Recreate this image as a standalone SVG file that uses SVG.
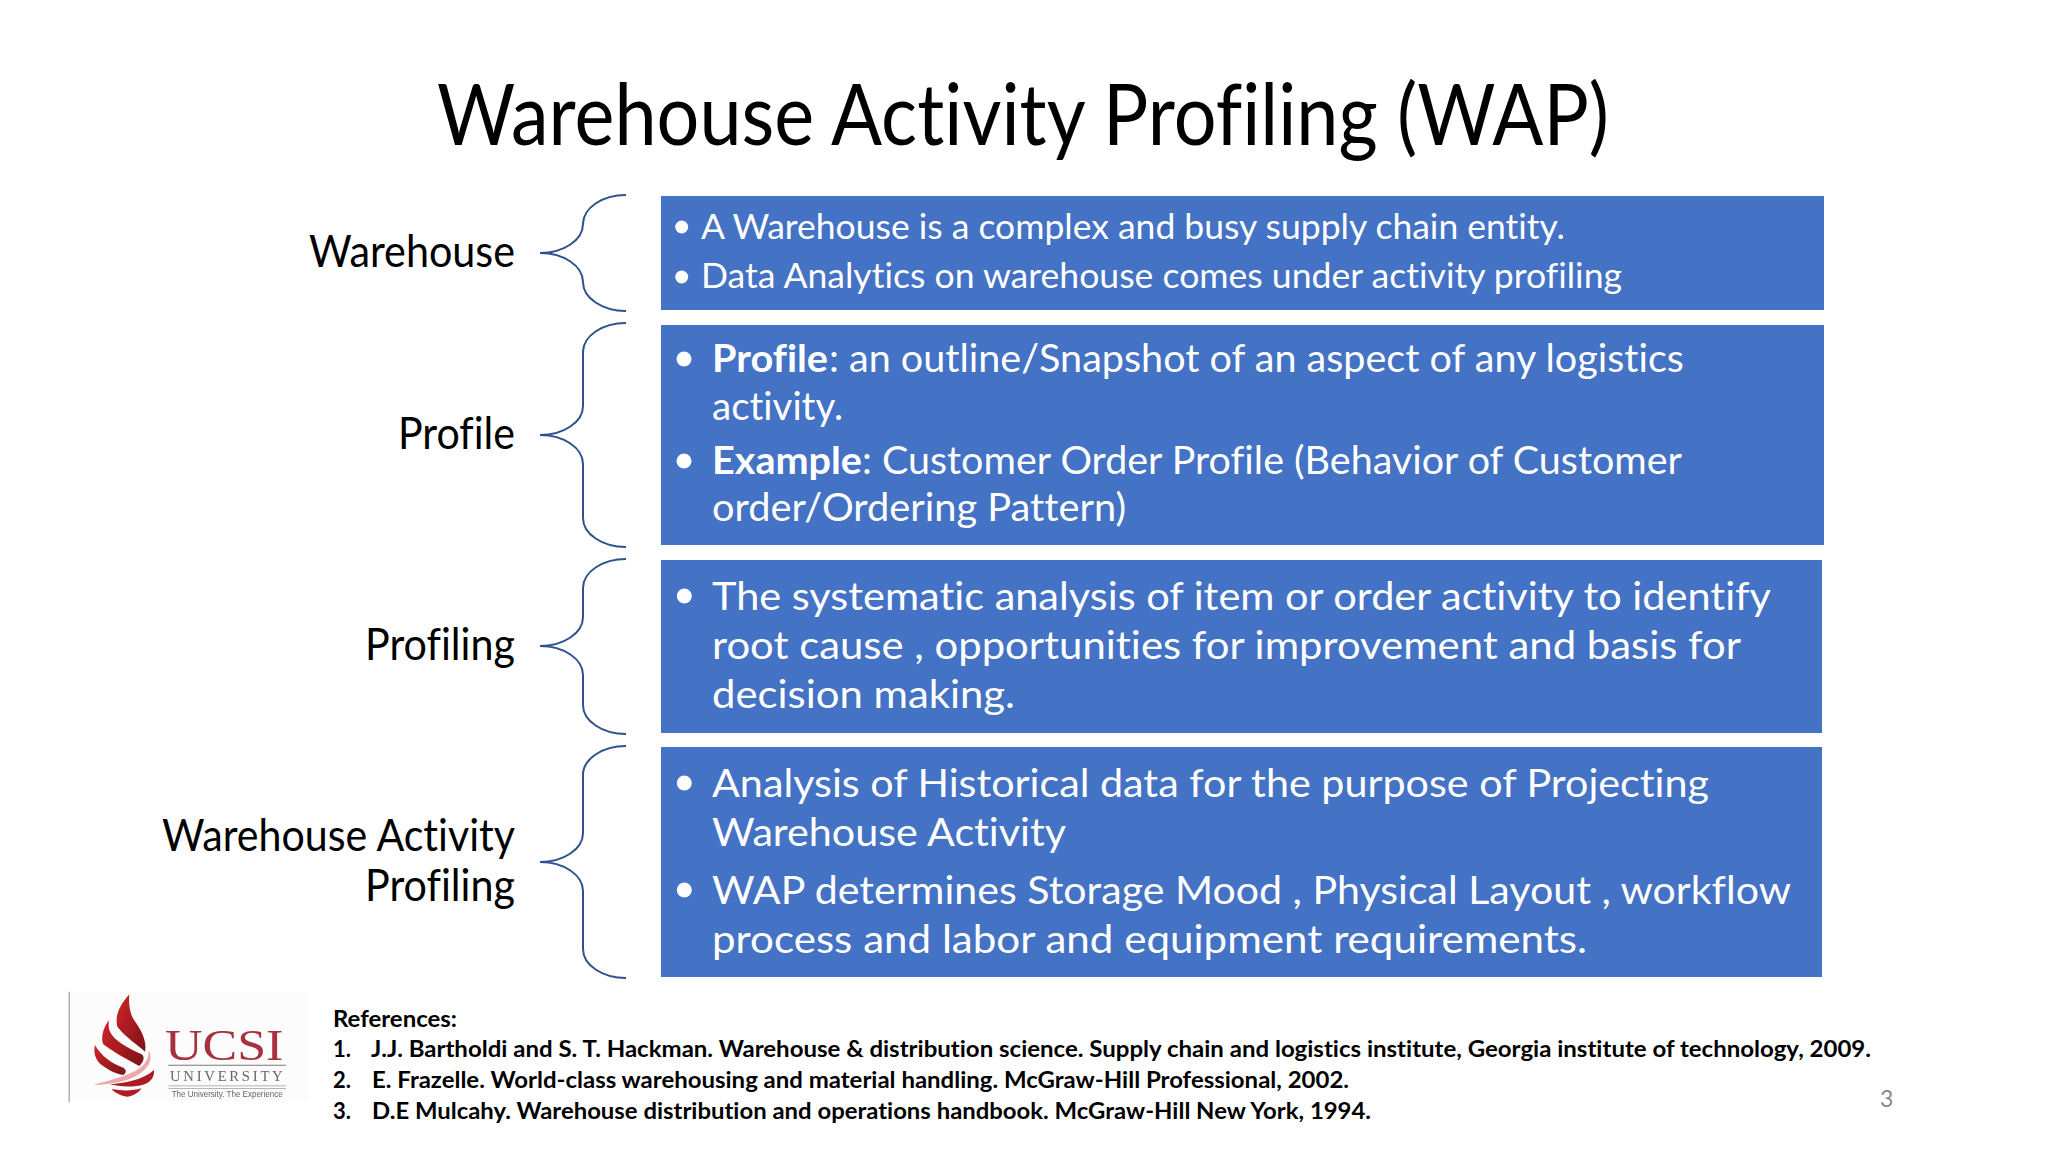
<svg xmlns="http://www.w3.org/2000/svg" width="2048" height="1152" viewBox="0 0 2048 1152">
<defs>
<style>
text{font-family:"Lato","Open Sans","Liberation Sans",sans-serif;font-variant-ligatures:none}
.t{fill:#000}
.lab{font-size:44px;fill:#000}
.w{fill:#fff}
.box{fill:#4472C4}
.dot{fill:#fff}
.brace{fill:none;stroke:#2F528F;stroke-width:2}
.ref{font-size:22px;font-weight:700;fill:#000}
</style>
<filter id="soft" x="-5%" y="-5%" width="110%" height="110%"><feGaussianBlur stdDeviation="0.9"/></filter>
<linearGradient id="flame" x1="0" y1="0" x2="1" y2="1"><stop offset="0" stop-color="#d0262a"/><stop offset="1" stop-color="#7c1216"/></linearGradient>
</defs>
<rect width="2048" height="1152" fill="#fff"/>
<text id="title" class="t" x="437" y="145" font-size="85" textLength="1172" lengthAdjust="spacingAndGlyphs">Warehouse Activity Profiling (WAP)</text>

<g id="connectors">
<path class="brace" d="M626,195 A43,29 0 0 0 583,224 A43,29 0 0 1 540,253 A43,29 0 0 1 583,282 A43,29 0 0 0 626,311"/>
<path class="brace" d="M626,323 A43,29 0 0 0 583,352 L583,406 A43,29 0 0 1 540,435 A43,29 0 0 1 583,464 L583,518 A43,29 0 0 0 626,547"/>
<path class="brace" d="M626,559 A43,29 0 0 0 583,588 L583,617 A43,29 0 0 1 540,646 A43,29 0 0 1 583,675 L583,705 A43,29 0 0 0 626,734"/>
<path class="brace" d="M626,746 A43,29 0 0 0 583,775 L583,833 A43,29 0 0 1 540,862 A43,29 0 0 1 583,891 L583,949 A43,29 0 0 0 626,978"/>
</g>

<g id="label-warehouse"><text class="lab" x="309" y="267" textLength="206" lengthAdjust="spacingAndGlyphs">Warehouse</text></g>
<g id="label-profile"><text class="lab" x="398" y="449" textLength="117" lengthAdjust="spacingAndGlyphs">Profile</text></g>
<g id="label-profiling"><text class="lab" x="365" y="660" textLength="150" lengthAdjust="spacingAndGlyphs">Profiling</text></g>
<g id="label-wap">
<text class="lab" x="162" y="851" textLength="353" lengthAdjust="spacingAndGlyphs">Warehouse Activity</text>
<text class="lab" x="365" y="901" textLength="150" lengthAdjust="spacingAndGlyphs">Profiling</text>
</g>

<g id="box-warehouse" font-size="34.5">
<rect class="box" x="661" y="196" width="1163" height="114"/>
<circle class="dot" cx="681.7" cy="227" r="6.5"/><circle class="dot" cx="681.7" cy="277" r="6.5"/>
<text class="w" x="701" y="239" textLength="864" lengthAdjust="spacingAndGlyphs">A Warehouse is a complex and busy supply chain entity.</text>
<text class="w" x="701" y="288" textLength="921" lengthAdjust="spacingAndGlyphs">Data Analytics on warehouse comes under activity profiling</text>
</g>

<g id="box-profile" font-size="38">
<rect class="box" x="661" y="325" width="1163" height="220"/>
<circle class="dot" cx="684" cy="359" r="7.5"/><circle class="dot" cx="684" cy="461" r="7.5"/>
<text class="w" y="372"><tspan x="712" font-weight="700" textLength="116" lengthAdjust="spacingAndGlyphs">Profile</tspan><tspan x="829" textLength="855" lengthAdjust="spacingAndGlyphs">: an outline/Snapshot of an aspect of any logistics</tspan></text>
<text class="w" x="712" y="419.500" textLength="131" lengthAdjust="spacingAndGlyphs">activity.</text>
<text class="w" y="473.500"><tspan x="712" font-weight="700" textLength="150" lengthAdjust="spacingAndGlyphs">Example</tspan><tspan x="862" textLength="820" lengthAdjust="spacingAndGlyphs">: Customer Order Profile (Behavior of Customer</tspan></text>
<text class="w" x="712" y="520.500" textLength="414" lengthAdjust="spacingAndGlyphs">order/Ordering Pattern)</text>
</g>

<g id="box-profiling" font-size="39">
<rect class="box" x="661" y="560" width="1161" height="173"/>
<circle class="dot" cx="684.3" cy="596" r="7.5"/>
<text class="w" x="712" y="609.500" textLength="1059" lengthAdjust="spacingAndGlyphs">The systematic analysis of item or order activity to identify</text>
<text class="w" x="712" y="658.500" textLength="1029" lengthAdjust="spacingAndGlyphs">root cause , opportunities for improvement and basis for</text>
<text class="w" x="712" y="707.500" textLength="303" lengthAdjust="spacingAndGlyphs">decision making.</text>
</g>

<g id="box-wap" font-size="39">
<rect class="box" x="661" y="747" width="1161" height="230"/>
<circle class="dot" cx="684.3" cy="783" r="7.5"/><circle class="dot" cx="684.3" cy="890" r="7.5"/>
<text class="w" x="712" y="796.500" textLength="997" lengthAdjust="spacingAndGlyphs">Analysis of Historical data for the purpose of Projecting</text>
<text class="w" x="712" y="846" textLength="354" lengthAdjust="spacingAndGlyphs">Warehouse Activity</text>
<text class="w" x="712" y="903.500" textLength="1079" lengthAdjust="spacingAndGlyphs">WAP determines Storage Mood , Physical Layout , workflow</text>
<text class="w" x="712" y="953" textLength="875" lengthAdjust="spacingAndGlyphs">process and labor and equipment requirements.</text>
</g>

<g id="logo" transform="translate(60,985) scale(0.33333)">
<rect x="27" y="20" width="715" height="330" fill="#fcfcfc"/>
<rect x="26" y="20" width="3" height="332" fill="#8a8a8a"/>
<g filter="url(#soft)">
<path fill="url(#flame)" d="M208,28 C175,65 165,95 172,125 C200,160 235,180 255,200 C262,165 240,130 222,105 C210,85 205,60 208,28Z"/>
<path fill="url(#flame)" d="M147,105 C128,130 122,160 130,178 C165,205 205,225 238,243 C252,230 255,215 245,208 C205,190 160,165 150,140 C145,128 145,115 147,105Z"/>
<path fill="url(#flame)" d="M105,180 C100,200 105,225 125,240 C145,255 170,268 190,270 C200,262 200,255 190,248 C155,235 125,215 105,180Z"/>
<path fill="#eda9a9" d="M100,300 C150,285 220,270 250,240 C262,225 268,210 265,195 C285,225 260,265 200,285 C165,295 130,300 100,300Z"/>
<path fill="#a81b20" d="M150,298 C190,295 250,285 282,255 C285,285 260,300 230,303 C200,307 170,303 150,298Z"/>
<path fill="#b01e22" d="M155,312 C185,318 220,318 245,310 C235,325 215,335 200,335 C185,332 165,325 155,312Z"/>
<text x="315" y="226" font-size="132" textLength="355" lengthAdjust="spacingAndGlyphs" fill="#a5303c" style="font-family:'Liberation Serif',serif">UCSI</text>
<rect x="325" y="239" width="353" height="4" fill="#9a9a9a"/>
<text x="330" y="288" font-size="44" textLength="338" lengthAdjust="spacing" fill="#666" style="font-family:'Liberation Serif',serif">UNIVERSITY</text>
<rect x="325" y="301" width="353" height="3" fill="#b5b5b5"/>
<rect x="325" y="309" width="353" height="3" fill="#b5b5b5"/>
<text x="335" y="336" font-size="25" textLength="333" lengthAdjust="spacingAndGlyphs" fill="#666" style="font-family:'Liberation Sans',sans-serif">The University. The Experience</text>
</g>
</g>

<g id="references">
<text class="ref" x="333" y="1027" textLength="124" lengthAdjust="spacingAndGlyphs">References:</text>
<text class="ref" x="333" y="1057">1.</text>
<text class="ref" x="371" y="1057" textLength="1500" lengthAdjust="spacingAndGlyphs">J.J. Bartholdi and S. T. Hackman. Warehouse &amp; distribution science. Supply chain and logistics institute, Georgia institute of technology, 2009.</text>
<text class="ref" x="333" y="1088">2.</text>
<text class="ref" x="372" y="1088" textLength="977" lengthAdjust="spacingAndGlyphs">E. Frazelle. World-class warehousing and material handling. McGraw-Hill Professional, 2002.</text>
<text class="ref" x="333" y="1119">3.</text>
<text class="ref" x="372" y="1119" textLength="999" lengthAdjust="spacingAndGlyphs">D.E Mulcahy. Warehouse distribution and operations handbook. McGraw-Hill New York, 1994.</text>
</g>
<text id="page" x="1880" y="1107" font-size="23" fill="#898989">3</text>
</svg>
